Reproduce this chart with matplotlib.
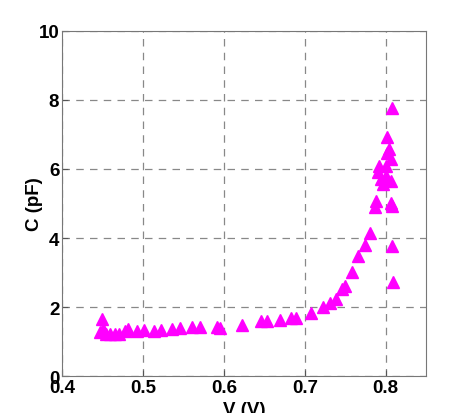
import matplotlib
matplotlib.use("Agg")
import matplotlib.pyplot as plt

voltage = [0.449, 0.447, 0.451, 0.454, 0.459, 0.466, 0.470, 0.478, 0.482, 0.492,
           0.501, 0.513, 0.522, 0.536, 0.546, 0.561, 0.570, 0.591, 0.595, 0.622,
           0.646, 0.653, 0.669, 0.683, 0.689, 0.708, 0.723, 0.731, 0.738, 0.746,
           0.750, 0.758, 0.766, 0.775, 0.781, 0.787, 0.788, 0.791, 0.792, 0.794,
           0.797, 0.800, 0.802, 0.802, 0.804, 0.806, 0.807, 0.807, 0.808, 0.808,
           0.808, 0.809, 0.801]
capacitance = [1.66, 1.27, 1.37, 1.22, 1.22, 1.22, 1.22, 1.32, 1.37, 1.32,
               1.34, 1.30, 1.35, 1.37, 1.39, 1.42, 1.42, 1.42, 1.40, 1.49,
               1.59, 1.59, 1.64, 1.69, 1.69, 1.83, 2.00, 2.12, 2.24, 2.53,
               2.62, 3.03, 3.49, 3.80, 4.14, 4.89, 5.08, 5.90, 6.09, 5.71,
               5.56, 6.09, 6.46, 6.94, 6.58, 6.29, 5.66, 5.01, 4.94, 7.78,
               3.78, 2.72, 5.80]
xticks = [0.4, 0.5, 0.6, 0.7, 0.8]
yticks = [0, 2, 4, 6, 8, 10]

plt.rcParams['font.family'] = ['Liberation Sans', 'DejaVu Sans']
fig = plt.figure(figsize=(4.74, 4.14), dpi=100)
ax = fig.add_axes([0.131, 0.089, 0.768, 0.834])
ax.plot(voltage, capacitance, linestyle='none', marker='^', color='#ff00ff',
        markersize=9, markeredgecolor='#ff00ff')
ax.set_xlim(0.4, 0.85)
ax.set_ylim(0, 10)
ax.set_xticks(xticks)
ax.set_yticks(yticks)
ax.set_xticklabels([f"{t:.1f}" for t in xticks], fontsize=13.5, fontweight='bold')
ax.set_yticklabels([str(t) for t in yticks], fontsize=13.5, fontweight='bold')
ax.tick_params(direction='in', length=4, color='#555555', pad=2)
ax.grid(True, linestyle=(0, (6, 5)), color='#888888', linewidth=0.9)
for s in ax.spines.values():
    s.set_color('#777777')
ax.set_ylabel('C (pF)', fontsize=13.5, fontweight='bold', labelpad=-3)
ax.set_xlabel('V (V)', fontsize=13.5, fontweight='bold', labelpad=4)
fig.savefig('out.png', dpi=100)
